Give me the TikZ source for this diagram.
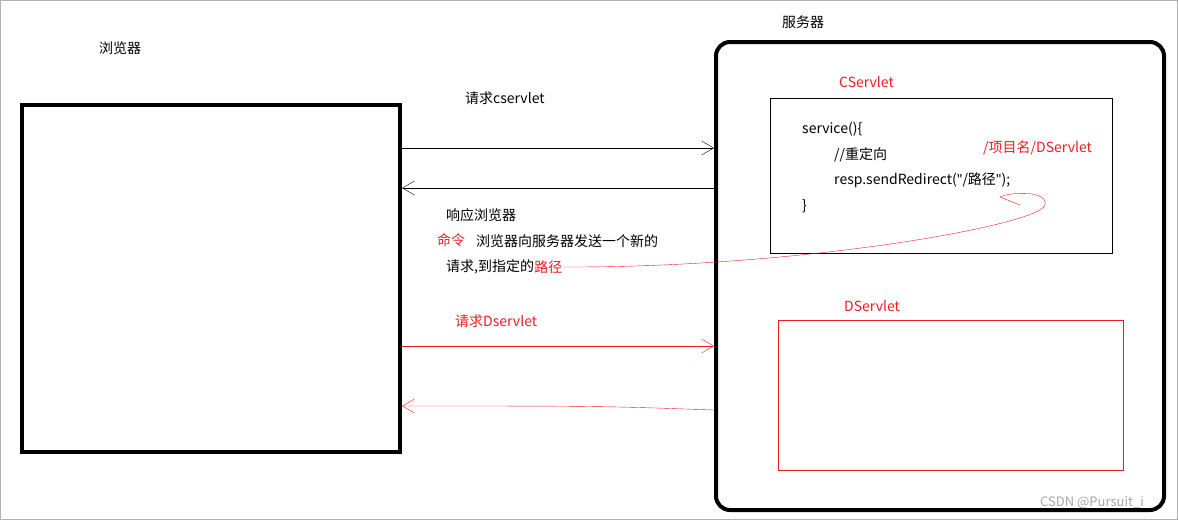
\documentclass[tikz,border=0pt]{standalone}
\usepackage{fontspec}
\setmainfont{Noto Sans CJK SC}
\newfontfamily\latf{Noto Sans}
\usetikzlibrary{arrows.meta}
\definecolor{rd}{RGB}{237,28,36}
\begin{document}
\begin{tikzpicture}[x=1pt,y=-1pt,
  txt/.style={font=\fontsize{14}{16}\selectfont,inner sep=0pt,anchor=west},
  rtxt/.style={txt,text=rd},
  arr/.style={-{Straight Barb[length=12pt,width=14pt]}}]
\useasboundingbox (0,0) rectangle (1178,520);
\draw[gray!60] (0.5,0.5) rectangle (1177.5,519.5);
\node[draw,line width=4pt,minimum width=378pt,minimum height=347pt,anchor=north west] (br) at (20,103) {};
\node[txt] (brl) at (99,48) {浏览器};
\node[draw,line width=4pt,rounded corners=14pt,minimum width=448pt,minimum height=468pt,anchor=north west] (sv) at (714,40) {};
\node[txt] (svl) at (782,22) {服务器};
\node[draw,minimum width=342pt,minimum height=155pt,anchor=north west] (cs) at (770,98) {};
\node[rtxt] (csl) at (839,82) {CServlet};
\node[txt] (c1) at (802,129) {service()\{};
\node[txt] (c2) at (834,155) {//重定向};
\node[txt] (c3) at (834,180) {resp.sendRedirect({\latf\symbol{34}}/路径{\latf\symbol{34}});};
\node[txt] (c4) at (802,206) {\}};
\node[rtxt] (pj) at (983,148) {/项目名/DServlet};
\node[draw=rd,minimum width=345pt,minimum height=150pt,anchor=north west] (ds) at (778,320) {};
\node[rtxt] (dsl) at (844,306) {DServlet};
\node[txt] (r1) at (465,98) {请求cservlet};
\node[txt] (r2) at (446,215) {响应浏览器};
\node[rtxt] (r3) at (437,240) {命令};
\node[txt] (r4) at (476,241) {浏览器向服务器发送一个新的};
\node[txt] (r5) at (446,267) {请求,到指定的};
\node[rtxt,anchor=west] (r6) at (r5.east) {路径};
\node[rtxt] (r7) at (455,321) {请求Dservlet};
\node[txt,text=gray!70,font=\fontsize{13}{15}\selectfont] (wm) at (1040,503) {CSDN @Pursuit\_i};
\draw[arr] (br.east |- 0,148) -- (sv.west |- 0,148);
\draw[arr] (sv.west |- 0,188) -- (br.east |- 0,188);
\draw[arr,rd] (br.east |- 0,346) -- (sv.west |- 0,346);
\draw[arr,rd] (sv.west |- 0,410) .. controls (600,406) .. (br.east |- 0,406);
\draw[rd] (r6.east) .. controls (800,268) and (1040,225) .. (1045,205)
  .. controls (1048,190) and (1010,192) .. (1000,197) -- (1020,205);
\end{tikzpicture}
\end{document}
